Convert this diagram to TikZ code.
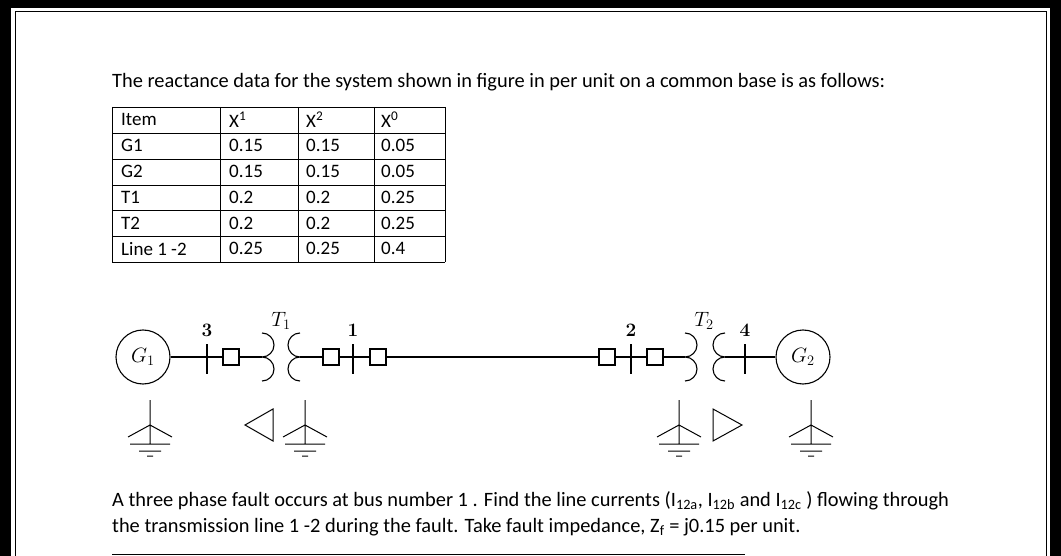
\documentclass[tikz,border=0pt]{standalone}
\usepackage{fontspec}
\newfontfamily\calfont{Carlito}
\begin{document}
\begin{tikzpicture}[x=1pt,y=-1pt,
  wire/.style={line width=1.1pt},
  cbox/.style={draw,line width=1.1pt,minimum size=16pt,inner sep=0pt,fill=white},
  gen/.style={draw,circle,line width=1.1pt,minimum size=54pt,inner sep=0pt,font=\fontsize{21}{24}\selectfont},
  lbl/.style={font=\fontsize{19}{21}\selectfont\bfseries},
  txt/.style={anchor=base west,inner sep=0pt,font=\calfont\fontsize{20.4}{24}\selectfont},
  cell/.style={anchor=west,inner sep=0pt,font=\calfont\fontsize{19}{22}\selectfont}]
\useasboundingbox (0,0) rectangle (1061,556);
% frame
\fill[black] (0,0) rectangle (1061,560);
\fill[white] (11,8) rectangle (1050,560);
\draw[line width=1pt] (15,12) rectangle (1046,570);
% title
\node[txt] (title) at (112,88) {The reactance data for the system shown in figure in per unit on a common base is as follows:};
% table
\foreach \y in {107,133,159,185,210,236,262} \draw[line width=0.8pt] (112,\y) -- (445,\y);
\foreach \x in {112,220,298,374,445} \draw[line width=0.8pt] (\x,107) -- (\x,262);
\foreach \r/\a/\b/\c [count=\i] in {Item/X\textsuperscript{1}/X\textsuperscript{2}/X\textsuperscript{0},G1/0.15/0.15/0.05,G2/0.15/0.15/0.05,T1/0.2/0.2/0.25,T2/0.2/0.2/0.25,Line 1 -2/0.25/0.25/0.4}{
  \node[cell] (r\i a) at (121,94+25.8*\i) {\r};
  \node[cell] (r\i b) at (229,94+25.8*\i) {\a};
  \node[cell] (r\i c) at (306,94+25.8*\i) {\b};
  \node[cell] (r\i d) at (381,94+25.8*\i) {\c};
}
% circuit
\node[gen] (g1) at (143,357) {$G_1$};
\node[gen] (g2) at (803,357) {$G_2$};
\node[cbox] (b1) at (231,357) {};
\node[cbox] (b2) at (331,357) {};
\node[cbox] (b3) at (378,357) {};
\node[cbox] (b4) at (607,357) {};
\node[cbox] (b5) at (655,357) {};
\coordinate (t1a) at (262,357); \coordinate (t1b) at (300,357);
\coordinate (t2a) at (685,357); \coordinate (t2b) at (725,357);
\draw[wire] (g1) -- (b1) (b1) -- (t1a);
\draw[wire] (t1b) -- (b2) (b2) -- (b3) (b3) -- (b4) (b4) -- (b5) (b5) -- (t2a);
\draw[wire] (t2b) -- (g2);
% buses
\foreach \x/\n in {207/3,353/1,631/2,745/4}{
  \draw[wire] (\x,344) -- (\x,374);
  \node[lbl] (bus\n) at (\x,330) {\n};
}
% transformer coils
\draw[wire] (t1a) ++(0,-24) arc[start angle=-90,end angle=90,radius=12] arc[start angle=-90,end angle=90,radius=12];
\draw[wire] (t1b) ++(0,-24) arc[start angle=-90,end angle=-270,radius=12] arc[start angle=-90,end angle=-270,radius=12];
\draw[wire] (t2a) ++(0,-24) arc[start angle=-90,end angle=90,radius=12] arc[start angle=-90,end angle=90,radius=12];
\draw[wire] (t2b) ++(0,-24) arc[start angle=-90,end angle=-270,radius=12] arc[start angle=-90,end angle=-270,radius=12];
\node[font=\fontsize{20}{22}\selectfont] (T1) at (281,321) {$T_1$};
\node[font=\fontsize{20}{22}\selectfont] (T2) at (704,321) {$T_2$};
% grounds
\foreach \x in {150,305,679,811}{
  \draw[line width=1pt] (\x,400) -- (\x,444) (\x-22,437) -- (\x,425) -- (\x+22,437)
    (\x-20,444) -- (\x+20,444) (\x-11,451) -- (\x+11,451) (\x-3,456) -- (\x+3,456);
}
% deltas
\draw[line width=1pt] (245,425) -- (273,409) -- (273,441) -- cycle;
\draw[line width=1pt] (742,425) -- (713,409) -- (713,441) -- cycle;
% question
\node[txt] (q1) at (112,506) {A three phase fault occurs at bus number 1 . Find the line currents (I\textsubscript{12a}, I\textsubscript{12b} and I\textsubscript{12c} ) flowing through};
\node[txt] (q2) at (112,532) {the transmission line 1 -2 during the fault. Take fault impedance, Z\textsubscript{f} = j0.15 per unit.};
\draw[line width=1pt] (112,554) -- (745,554);
\end{tikzpicture}
\end{document}
